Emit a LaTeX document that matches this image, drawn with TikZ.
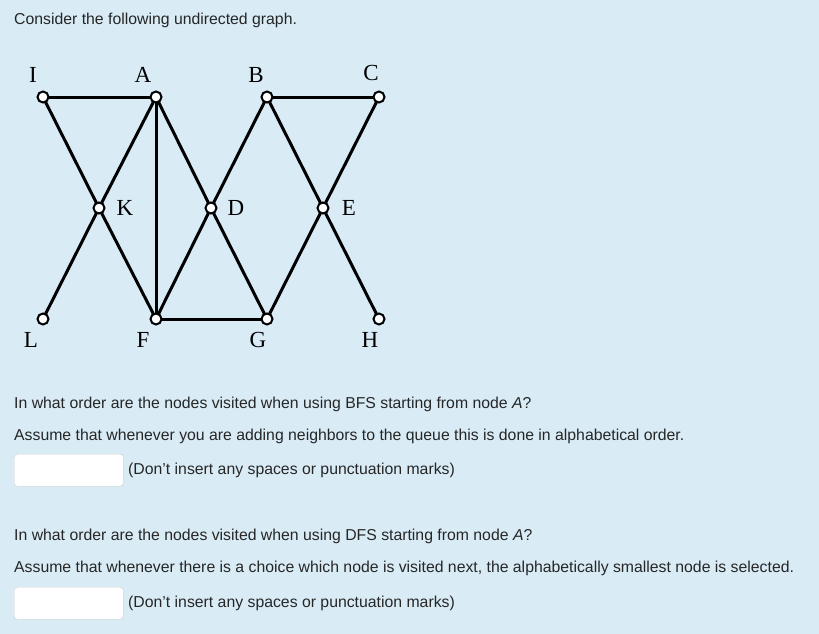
\documentclass[tikz,border=0pt]{standalone}
\usepackage{fontspec}
\setmainfont{Liberation Sans}
\newfontfamily\lab{Liberation Serif}
\begin{document}
\begin{tikzpicture}[x=1pt,y=-1pt,
  vtx/.style={circle,draw=black,fill=white,line width=2pt,inner sep=0pt,minimum size=11pt},
  edge/.style={line width=3pt},
  lbl/.style={font=\lab\fontsize{23}{23}\selectfont,inner sep=0pt},
  txt/.style={anchor=west,font=\fontsize{15.8}{18}\selectfont,inner sep=0pt,text=black!85},
  box/.style={draw=black!20,fill=white,rounded corners=3pt,minimum width=109pt,minimum height=32pt,anchor=north west}]
\fill[fill={rgb,255:red,217;green,236;blue,246}] (0,0) rectangle (819,634);
\useasboundingbox (0,0) rectangle (819,634);
\node[txt] (t0) at (14,20) {Consider the following undirected graph.};
\coordinate (I) at (43,97); \coordinate (A) at (156,97); \coordinate (B) at (267,97); \coordinate (C) at (379,97);
\coordinate (K) at (99,208); \coordinate (D) at (211,208); \coordinate (E) at (323,208);
\coordinate (L) at (43,319); \coordinate (F) at (156,319); \coordinate (G) at (267,319); \coordinate (H) at (379,319);
\foreach \a/\b in {I/A,B/C,I/K,K/F,A/K,K/L,A/F,A/D,D/G,B/D,D/F,B/E,E/H,C/E,E/G,F/G}
  \draw[edge] (\a) -- (\b);
\foreach \n in {I,A,B,C,K,D,E,L,F,G,H} \node[vtx] (v\n) at (\n) {};
\node[lbl] (lI) at (33,75) {I}; \node[lbl] (lA) at (143,75) {A}; \node[lbl] (lB) at (256,75) {B}; \node[lbl] (lC) at (371,73) {C};
\node[lbl] (lK) at (125,208) {K}; \node[lbl] (lD) at (236,208) {D}; \node[lbl] (lE) at (349,208) {E};
\node[lbl] (lL) at (31,340) {L}; \node[lbl] (lF) at (143,340) {F}; \node[lbl] (lG) at (258,340) {G}; \node[lbl] (lH) at (370,340) {H};
\node[txt] (q1) at (14,404) {In what order are the nodes visited when using BFS starting from node $\mathbf{\mathit{A}}$?};
\node[txt] (q1b) at (14,436) {Assume that whenever you are adding neighbors to the queue this is done in alphabetical order.};
\node[box] (b1) at (14,454) {};
\node[txt] (h1) at (128,470) {(Don't insert any spaces or punctuation marks)};
\node[txt] (q2) at (14,536) {In what order are the nodes visited when using DFS starting from node $\mathbf{\mathit{A}}$?};
\node[txt] (q2b) at (14,568) {Assume that whenever there is a choice which node is visited next, the alphabetically smallest node is selected.};
\node[box] (b2) at (14,587) {};
\node[txt] (h2) at (128,603) {(Don't insert any spaces or punctuation marks)};
\end{tikzpicture}
\end{document}
